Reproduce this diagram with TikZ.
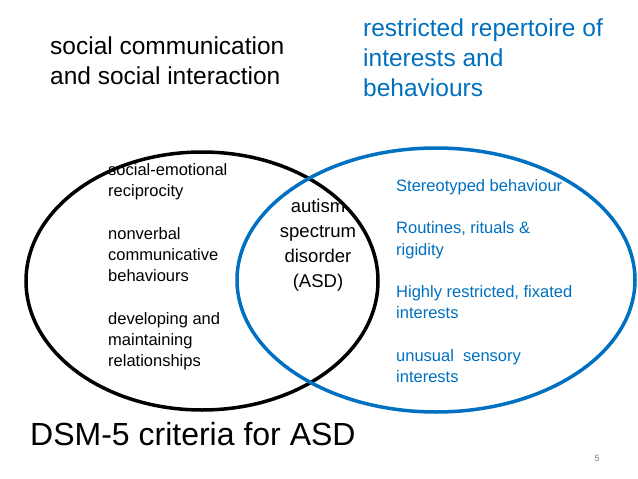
\documentclass[tikz,border=0pt]{standalone}
\usepackage{fontspec}
\setmainfont{Liberation Sans}
\definecolor{myblue}{RGB}{0,112,192}
\begin{document}
\begin{tikzpicture}[x=1pt,y=-1pt,
  lbl/.style={anchor=north west,align=left,inner sep=0pt},
  sm/.style={lbl,font=\fontsize{16.5}{21.3}\selectfont},
  big/.style={lbl,font=\fontsize{24.5}{30}\selectfont}]
\useasboundingbox[fill=white] (0,0) rectangle (638,479);
\draw[line width=3.5pt] (202,281) ellipse [x radius=176,y radius=129];
\draw[myblue,line width=3.5pt] (436,280) ellipse [x radius=199,y radius=132];
\node[big] (t1) at (50,37) {social communication\\and social interaction};
\node[big,myblue] (t2) at (363,19) {restricted repertoire of\\interests and\\behaviours};
\node[sm] (l) at (108,163) {social-emotional\\reciprocity\\[21.3pt]nonverbal\\communicative\\behaviours\\[21.3pt]developing and\\maintaining\\relationships};
\node[align=center,inner sep=0pt,font=\fontsize{18.5}{25}\selectfont] (c) at (318,245) {autism\\spectrum\\disorder\\(ASD)};
\node[sm,myblue] (r) at (396,179) {Stereotyped behaviour\\[21.3pt]Routines, rituals \&\\rigidity\\[21.3pt]Highly restricted, fixated\\interests\\[21.3pt]unusual\ \ sensory\\interests};
\node[lbl,font=\fontsize{32}{34}\selectfont] (d) at (30,422) {DSM-5 criteria for ASD};
\node[inner sep=0pt,font=\fontsize{9}{10}\selectfont,text=gray] (n) at (597,458) {5};
\end{tikzpicture}
\end{document}
